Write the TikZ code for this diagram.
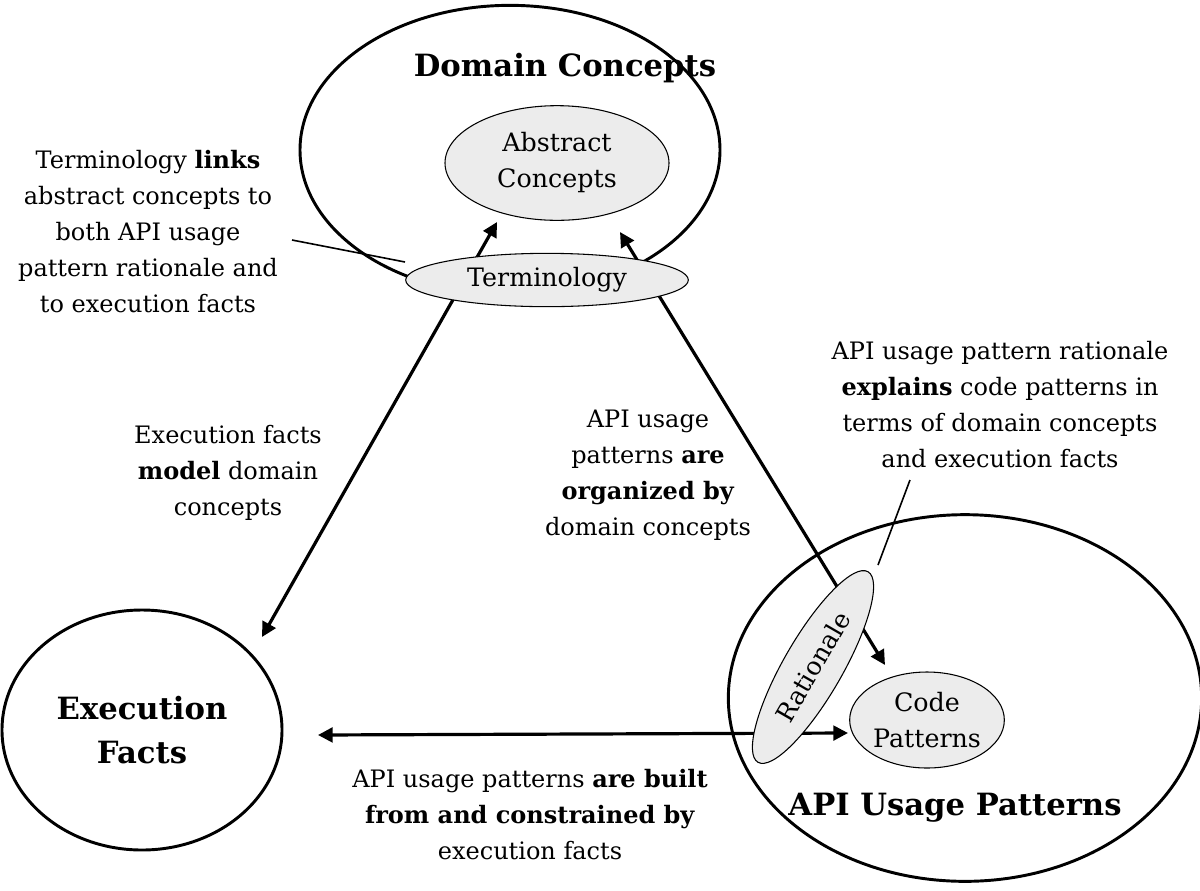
\documentclass[tikz,border=0pt]{standalone}
\usepackage{fontspec}
\setmainfont{DejaVu Serif}
\usetikzlibrary{shapes.geometric,arrows.meta}
\begin{document}
\begin{tikzpicture}[x=0.75pt,y=-0.75pt,
 big/.style={ellipse,draw,line width=2.2pt,inner sep=0pt},
 small/.style={ellipse,draw,fill=gray!15,line width=0.8pt,inner sep=0pt,align=center,font=\fontsize{19}{27}\selectfont},
 lbl/.style={align=center,font=\fontsize{18}{27}\selectfont},
 arr/.style={line width=2.4pt,{Triangle[length=11pt,width=11pt]}-{Triangle[length=11pt,width=11pt]}},
 call/.style={line width=1.2pt}]
\useasboundingbox (0,0) rectangle (1200,890);
\coordinate (a1) at (262,637); \coordinate (a2) at (497,222);
\coordinate (b1) at (620,232); \coordinate (b2) at (885,665);
\coordinate (c1) at (318,735); \coordinate (c2) at (848,733);
\draw[arr] (a1) -- (a2);
\draw[arr] (b1) -- (b2);
\draw[arr] (c1) -- (c2);
\node[big,minimum width=315pt,minimum height=217pt] (dc) at (510,150) {};
\node[font=\fontsize{23}{28}\selectfont\bfseries] (dct) at (565,68) {Domain Concepts};
\node[small,minimum width=168pt,minimum height=86pt] (ac) at (557,163) {Abstract\\Concepts};
\node[small,minimum width=212pt,minimum height=40pt] (term) at (547,280) {Terminology};
\node[big,minimum width=210pt,minimum height=180pt,align=center,font=\fontsize{23}{33}\selectfont\bfseries] (ef) at (142,730) {Execution\\Facts};
\node[big,minimum width=355pt,minimum height=275pt] (ap) at (965,698) {};
\node[font=\fontsize{23}{28}\selectfont\bfseries] (apt) at (955,808) {API Usage Patterns};
\node[small,minimum width=116pt,minimum height=72pt] (cp) at (927,720) {Code\\Patterns};
\node[small,minimum width=165pt,minimum height=44pt,rotate=60] (rat) at (813,667) {Rationale};
\coordinate (t1) at (292,240); \coordinate (t2) at (405,262);
\draw[call] (t1) -- (t2);
\coordinate (r1) at (910,480); \coordinate (r2) at (878,565);
\draw[call] (r1) -- (r2);
\node[lbl] (l1) at (148,232) {Terminology \textbf{links}\\abstract concepts to\\both API usage\\pattern rationale and\\to execution facts};
\node[lbl] (l2) at (228,473) {Execution facts\\\textbf{model} domain\\concepts};
\node[lbl] (l3) at (648,475) {API usage\\patterns \textbf{are}\\\textbf{organized by}\\domain concepts};
\node[lbl] (l4) at (1000,405) {API usage pattern rationale\\\textbf{explains} code patterns in\\terms of domain concepts\\and execution facts};
\node[lbl,align=center] (l5) at (530,815) {API usage patterns \textbf{are built}\\\textbf{from and constrained by}\\execution facts};
\end{tikzpicture}
\end{document}
